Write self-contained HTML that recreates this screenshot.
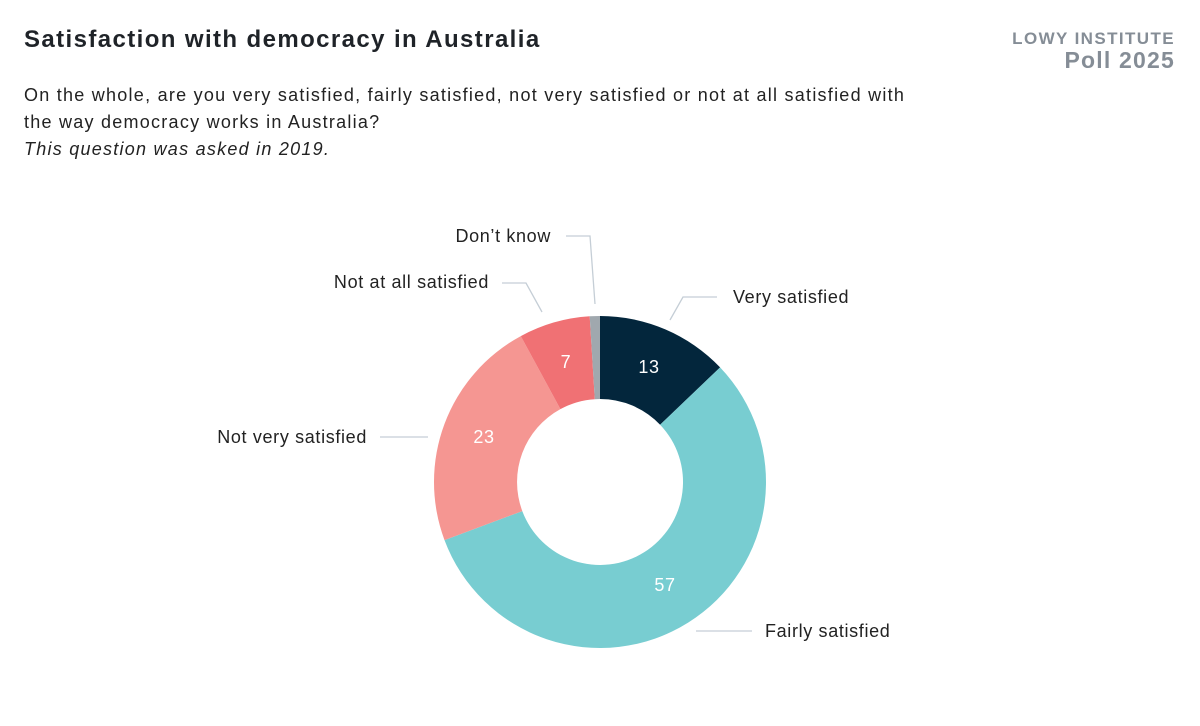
<!DOCTYPE html>
<html><head><style>
body{margin:0;background:#fff;font-family:"Liberation Sans",sans-serif;color:#222;}
.t{position:absolute;left:24px;top:26px;font-size:24px;font-weight:bold;color:#1f2328;letter-spacing:1.4px;}
.s{position:absolute;left:24px;top:82px;font-size:18px;line-height:27px;color:#222;letter-spacing:1.25px;}
.l1{position:absolute;right:25px;top:29px;font-size:17px;font-weight:bold;color:#858d96;text-align:right;letter-spacing:1.4px;}
.l2{position:absolute;right:25px;top:47px;font-size:23px;font-weight:bold;color:#858d96;letter-spacing:1.2px;}
</style></head><body>
<div style="position:relative;width:1200px;height:726px;overflow:hidden">
<div class="t">Satisfaction with democracy in Australia</div>
<div class="s">On the whole, are you very satisfied, fairly satisfied, not very satisfied or not at all satisfied with<br>the way democracy works in Australia?<br><i>This question was asked in 2019.</i></div>
<div class="l1">LOWY INSTITUTE</div>
<div class="l2">Poll 2025</div>
<svg width="1200" height="726" style="position:absolute;left:0;top:0" font-family="Liberation Sans, sans-serif" font-size="18" letter-spacing="0.65">
<path d="M600,316 A166,166 0 0 1 720.1,367.4 L660.1,424.7 A83,83 0 0 0 600,399 Z" fill="#03263c"/>
<path d="M720.1,367.4 A166,166 0 1 1 444.5,540.1 L522.3,511.1 A83,83 0 1 0 660.1,424.7 Z" fill="#78cdd1"/>
<path d="M444.5,540.1 A166,166 0 0 1 520.8,336.1 L560.4,409.1 A83,83 0 0 0 522.3,511.1 Z" fill="#f59692"/>
<path d="M520.8,336.1 A166,166 0 0 1 589.7,316.3 L594.8,399.2 A83,83 0 0 0 560.4,409.1 Z" fill="#f07174"/>
<path d="M589.7,316.3 A166,166 0 0 1 600,316 L600,399 A83,83 0 0 0 594.8,399.2 Z" fill="#a0a8ae"/>
<g stroke="#c5ced6" stroke-width="1.3" fill="none">
<polyline points="566,236 590,236 595,304"/>
<polyline points="502,283 526,283 542,312"/>
<polyline points="717,297 683,297 670,320"/>
<polyline points="380,437 428,437"/>
<polyline points="752,631 696,631"/>
</g>
<g fill="#222">
<text x="551" y="242" text-anchor="end">Don’t know</text>
<text x="489" y="288" text-anchor="end">Not at all satisfied</text>
<text x="733" y="303">Very satisfied</text>
<text x="367" y="443" text-anchor="end">Not very satisfied</text>
<text x="765" y="637">Fairly satisfied</text>
</g>
<g fill="#fff" text-anchor="middle">
<text x="649" y="373">13</text>
<text x="566" y="368">7</text>
<text x="484" y="443">23</text>
<text x="665" y="591">57</text>
</g>
</svg>
</div>
</body></html>
